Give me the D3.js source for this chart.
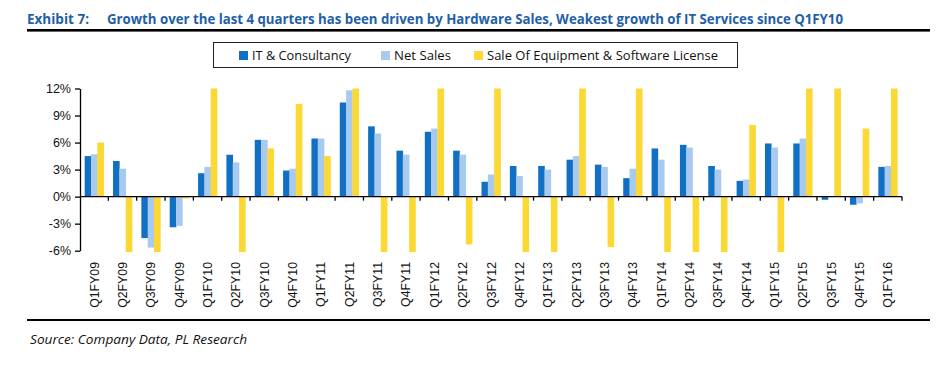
<!DOCTYPE html>
<html><head><meta charset="utf-8">
<script src="https://cdn.jsdelivr.net/npm/d3@7"></script>
<style>
html,body{margin:0;padding:0;background:#fff;}
svg{display:block;}
</style></head>
<body>
<svg id="c" width="946" height="372"></svg>
<script>
const categories = ["Q1FY09","Q2FY09","Q3FY09","Q4FY09","Q1FY10","Q2FY10","Q3FY10","Q4FY10","Q1FY11","Q2FY11","Q3FY11","Q4FY11","Q1FY12","Q2FY12","Q3FY12","Q4FY12","Q1FY13","Q2FY13","Q3FY13","Q4FY13","Q1FY14","Q2FY14","Q3FY14","Q4FY14","Q1FY15","Q2FY15","Q3FY15","Q4FY15","Q1FY16"];
const itConsultancy = [4.5,3.95,-4.6,-3.4,2.6,4.65,6.3,2.9,6.45,10.45,7.8,5.1,7.2,5.1,1.65,3.4,3.4,4.1,3.55,2.05,5.35,5.75,3.4,1.75,5.9,5.9,-0.35,-0.9,3.3];
const netSales = [4.7,3.1,-5.65,-3.25,3.3,3.8,6.3,3.1,6.45,11.8,7.0,4.65,7.55,4.65,2.45,2.3,3.0,4.5,3.3,3.1,4.1,5.45,3.0,1.9,5.45,6.45,0,-0.75,3.4];
const equipSoftware = [6.0,-6.15,-6.15,-0.2,12,-6.15,5.35,10.3,4.5,12,-6.15,-6.15,12,-5.3,12,-6.15,-6.15,12,-5.6,12,-6.15,-6.15,-6.15,7.95,-6.15,12,12,7.55,12];
const seriesNames = ["IT & Consultancy","Net Sales","Sale Of Equipment & Software License"];
const seriesColors = ["#1170c4","#a9caef","#fbd834"];
const yTicks = [-6,-3,0,3,6,9,12];

const svg = d3.select("#c");
const blue = "#1f5fa8";

// Title
svg.append("text").attr("x",27).attr("y",24).attr("fill",blue)
  .attr("font-family","'Liberation Sans Narrow','Open Sans',sans-serif").attr("font-weight","bold").attr("font-size",14)
  .attr("textLength",62).attr("lengthAdjust","spacingAndGlyphs").text("Exhibit 7:");
svg.append("text").attr("x",107).attr("y",24).attr("fill",blue)
  .attr("font-family","'Liberation Sans Narrow','Open Sans',sans-serif").attr("font-weight","bold").attr("font-size",14)
  .attr("textLength",736).attr("lengthAdjust","spacingAndGlyphs")
  .text("Growth over the last 4 quarters has been driven by Hardware Sales, Weakest growth of IT Services since Q1FY10");
svg.append("rect").attr("x",27).attr("y",29).attr("width",903).attr("height",2.6).attr("fill","#000");

// Legend
svg.append("rect").attr("x",213.5).attr("y",42.5).attr("width",524).attr("height",25).attr("fill","#fff").attr("stroke","#222").attr("stroke-width",1);
const legX = [239,381,474];
const legTL = [99,57,231];
seriesNames.forEach((n,i)=>{
  svg.append("rect").attr("x",legX[i]).attr("y",51).attr("width",9).attr("height",9).attr("fill",seriesColors[i]);
  svg.append("text").attr("x",legX[i]+13).attr("y",60).attr("font-family","'Open Sans',sans-serif").attr("font-size",13).attr("fill","#111")
    .attr("textLength",legTL[i]).attr("lengthAdjust","spacingAndGlyphs").text(n);
});

// Scales
const x0 = d3.scaleBand().domain(categories).range([80,902]).paddingInner(0.33).paddingOuter(0.165);
const x1 = d3.scaleBand().domain([0,1,2]).range([0,x0.bandwidth()]);
const y = d3.scaleLinear().domain([-6,12]).range([250.7,88.5]);

const g = svg.append("g");
const series = [itConsultancy, netSales, equipSoftware];
series.forEach((vals,si)=>{
  g.selectAll(null).data(categories).enter().append("rect")
    .attr("x",c=>x0(c)+x1(si))
    .attr("width",x1.bandwidth()+0.3)
    .attr("y",(c,i)=>y(Math.max(0,vals[i])))
    .attr("height",(c,i)=>Math.abs(y(vals[i])-y(0)))
    .attr("fill",seriesColors[si]);
});

// Y axis
const yAxis = d3.axisLeft(y).tickValues(yTicks).tickFormat(d=>d+"%").tickSize(5).tickSizeOuter(0);
const ya = svg.append("g").attr("transform","translate(80,0)").call(yAxis);
ya.select(".domain").attr("stroke","#000").attr("stroke-width",1.3);
ya.selectAll(".tick line").attr("stroke","#000").attr("stroke-width",1.3);
ya.selectAll(".tick text").attr("font-family","'Liberation Sans',Arial,sans-serif").attr("font-size",12.5).attr("fill","#111").attr("x",-9);

// X axis line at zero with boundary ticks
const step = x0.step();
const bounds = d3.range(1,categories.length+1).map(i=>80+i*step);
const xa = svg.append("g");
xa.append("line").attr("x1",80).attr("x2",902).attr("y1",y(0)).attr("y2",y(0)).attr("stroke","#000").attr("stroke-width",1.3);
xa.selectAll(null).data(bounds).enter().append("line")
  .attr("x1",d=>d).attr("x2",d=>d).attr("y1",y(0)).attr("y2",y(0)+4).attr("stroke","#000").attr("stroke-width",1.3);

// X labels
svg.append("g").selectAll("text").data(categories).enter().append("text")
  .attr("transform",c=>`translate(${x0(c)+x0.bandwidth()/2+4.5},262) rotate(-90)`)
  .attr("text-anchor","end")
  .attr("font-family","'Liberation Sans',Arial,sans-serif").attr("font-size",12.3).attr("fill","#111")
  .text(c=>c);

// Bottom rule & source
svg.append("rect").attr("x",27).attr("y",319).attr("width",903).attr("height",2).attr("fill","#000");
svg.append("text").attr("x",30).attr("y",344).attr("font-family","'Open Sans',sans-serif").attr("font-style","italic").attr("font-size",13.5)
  .attr("fill","#111").attr("textLength",217).attr("lengthAdjust","spacingAndGlyphs").text("Source: Company Data, PL Research");
</script>
</body></html>
